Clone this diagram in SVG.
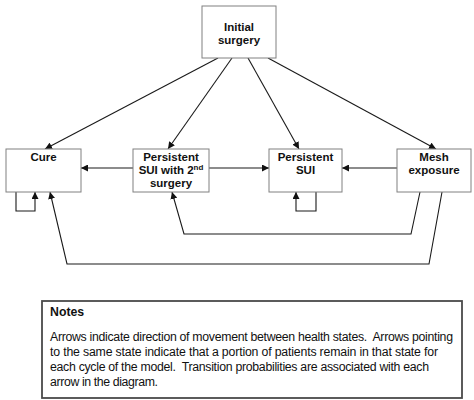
<svg xmlns="http://www.w3.org/2000/svg" width="474" height="400" viewBox="0 0 474 400">
<style>
.box{fill:#fff;stroke:#808080;stroke-width:1}
.lbl{font-family:"Liberation Sans",Arial,sans-serif;font-weight:bold;font-size:11.5px;fill:#111;text-anchor:middle}
.ln{fill:none;stroke:#1a1a1a;stroke-width:1.1}
.note{font-family:"Liberation Sans",Arial,sans-serif;font-size:12.3px;fill:#111}
</style>
<defs>
<marker id="ah" viewBox="0 0 10 10" refX="10" refY="5" markerWidth="7" markerHeight="7" markerUnits="userSpaceOnUse" orient="auto">
<path d="M0,0 L10,5 L0,10 z" fill="#111"/>
</marker>
</defs>
<rect width="474" height="400" fill="#fff"/>
<g id="connectors">
<line class="ln" x1="218" y1="58" x2="45" y2="149" marker-end="url(#ah)"/>
<line class="ln" x1="232" y1="58" x2="168" y2="149" marker-end="url(#ah)"/>
<line class="ln" x1="248" y1="58" x2="299" y2="149" marker-end="url(#ah)"/>
<line class="ln" x1="268" y1="58" x2="436" y2="149" marker-end="url(#ah)"/>
<line class="ln" x1="133" y1="168" x2="81" y2="168" marker-end="url(#ah)"/>
<line class="ln" x1="209" y1="168" x2="269" y2="168" marker-end="url(#ah)"/>
<line class="ln" x1="397" y1="168" x2="342" y2="168" marker-end="url(#ah)"/>
<polyline class="ln" points="16,192 16,211 35,211 35,192" marker-end="url(#ah)"/>
<polyline class="ln" points="316,192 316,211 296,211 296,192" marker-end="url(#ah)"/>
<polyline class="ln" points="420,192 411,234 184,234 172,192" marker-end="url(#ah)"/>
<polyline class="ln" points="442,192 429,264 67,264 50,192" marker-end="url(#ah)"/>
</g>
<g id="initial-surgery">
<rect class="box" x="202" y="6" width="74" height="52"/>
<text class="lbl" x="239" y="31">Initial</text>
<text class="lbl" x="239" y="44">surgery</text>
</g>
<g id="cure">
<rect class="box" x="6" y="149" width="75" height="43"/>
<text class="lbl" x="43.5" y="161">Cure</text>
</g>
<g id="persistent-sui-2nd">
<rect class="box" x="133" y="149" width="76" height="43"/>
<text class="lbl" x="171" y="161">Persistent</text>
<text class="lbl" x="171" y="174">SUI with 2<tspan dy="-4" font-size="8px">nd</tspan></text>
<text class="lbl" x="171" y="187">surgery</text>
</g>
<g id="persistent-sui">
<rect class="box" x="269" y="149" width="73" height="43"/>
<text class="lbl" x="305.5" y="161">Persistent</text>
<text class="lbl" x="305.5" y="174">SUI</text>
</g>
<g id="mesh-exposure">
<rect class="box" x="397" y="149" width="74" height="43"/>
<text class="lbl" x="434" y="161">Mesh</text>
<text class="lbl" x="434" y="174">exposure</text>
</g>
<g id="notes">
<rect x="42" y="301" width="420" height="97" fill="#fff" stroke="#4a4a4a" stroke-width="1.8"/>
<text class="note" x="50" y="316" font-weight="bold">Notes</text>
<text class="note" x="50" y="341" textLength="403" lengthAdjust="spacing" xml:space="preserve">Arrows indicate direction of movement between health states.  Arrows pointing</text>
<text class="note" x="50" y="356" textLength="388" lengthAdjust="spacing">to the same state indicate that a portion of patients remain in that state for</text>
<text class="note" x="50" y="371" textLength="379" lengthAdjust="spacing" xml:space="preserve">each cycle of the model.  Transition probabilities are associated with each</text>
<text class="note" x="50" y="386" textLength="108" lengthAdjust="spacing">arrow in the diagram.</text>
</g>
</svg>
